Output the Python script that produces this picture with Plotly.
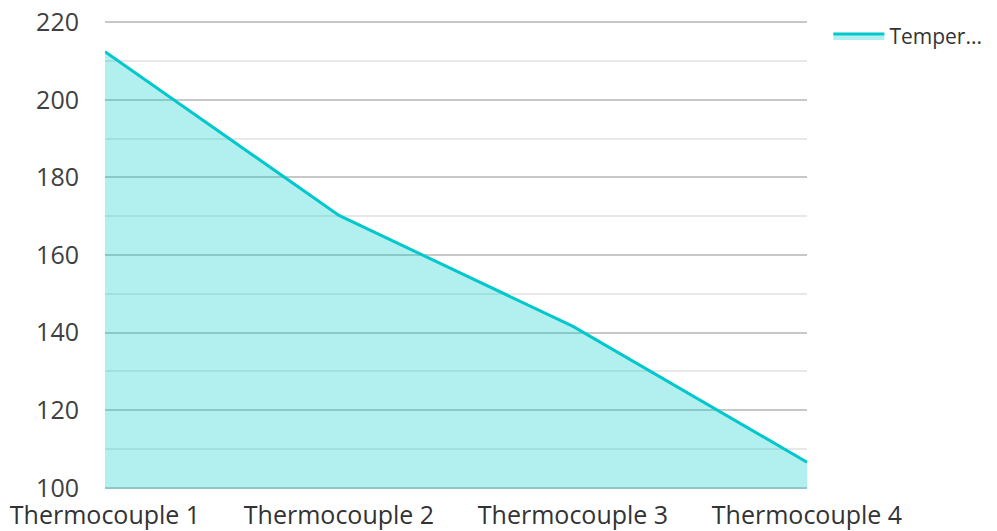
import plotly.graph_objects as go

categories = ["Thermocouple 1", "Thermocouple 2", "Thermocouple 3", "Thermocouple 4"]
temperature = [212.4, 170.2, 141.6, 106.6]
series_name = "Temper..."
y_ticks = [100, 120, 140, 160, 180, 200, 220]

fig = go.Figure()
fig.add_trace(go.Scatter(
    x=categories, y=temperature, name=series_name,
    mode="lines", fill="tozeroy",
    line=dict(color="#00C8CC", width=3),
    fillcolor="rgba(0,204,204,0.3)",
    showlegend=True,
))

fig.update_layout(
    width=989, height=523,
    margin=dict(l=97, r=190, t=13, b=42),
    paper_bgcolor="white", plot_bgcolor="white",
    font=dict(family="Open Sans", size=25, color="#404040"),
    xaxis=dict(
        type="category", range=[0, 3], showgrid=False, zeroline=False,
        showline=False, ticks="", tickfont=dict(size=25, color="#333333"),
        ticklabelstandoff=9, automargin=False, ticklabeloverflow="allow",
    ),
    yaxis=dict(
        range=[99.7, 220.3], tickvals=y_ticks, showgrid=True,
        gridcolor="#c8c8c8", gridwidth=1.5, zeroline=False, showline=False,
        ticks="", ticklabelstandoff=25, tickfont=dict(size=25, color="#404040"),
        minor=dict(dtick=10, tick0=100, showgrid=True, gridcolor="#e8e8e8", gridwidth=1.5),
        automargin=False, ticklabeloverflow="allow",
    ),
    legend=dict(xref="container", yref="container", x=0.8295, xanchor="left",
                y=0.985, yanchor="top", itemwidth=51,
                font=dict(size=21, color="#333333"), bgcolor="rgba(0,0,0,0)"),
)

fig.write_html("out.html")
